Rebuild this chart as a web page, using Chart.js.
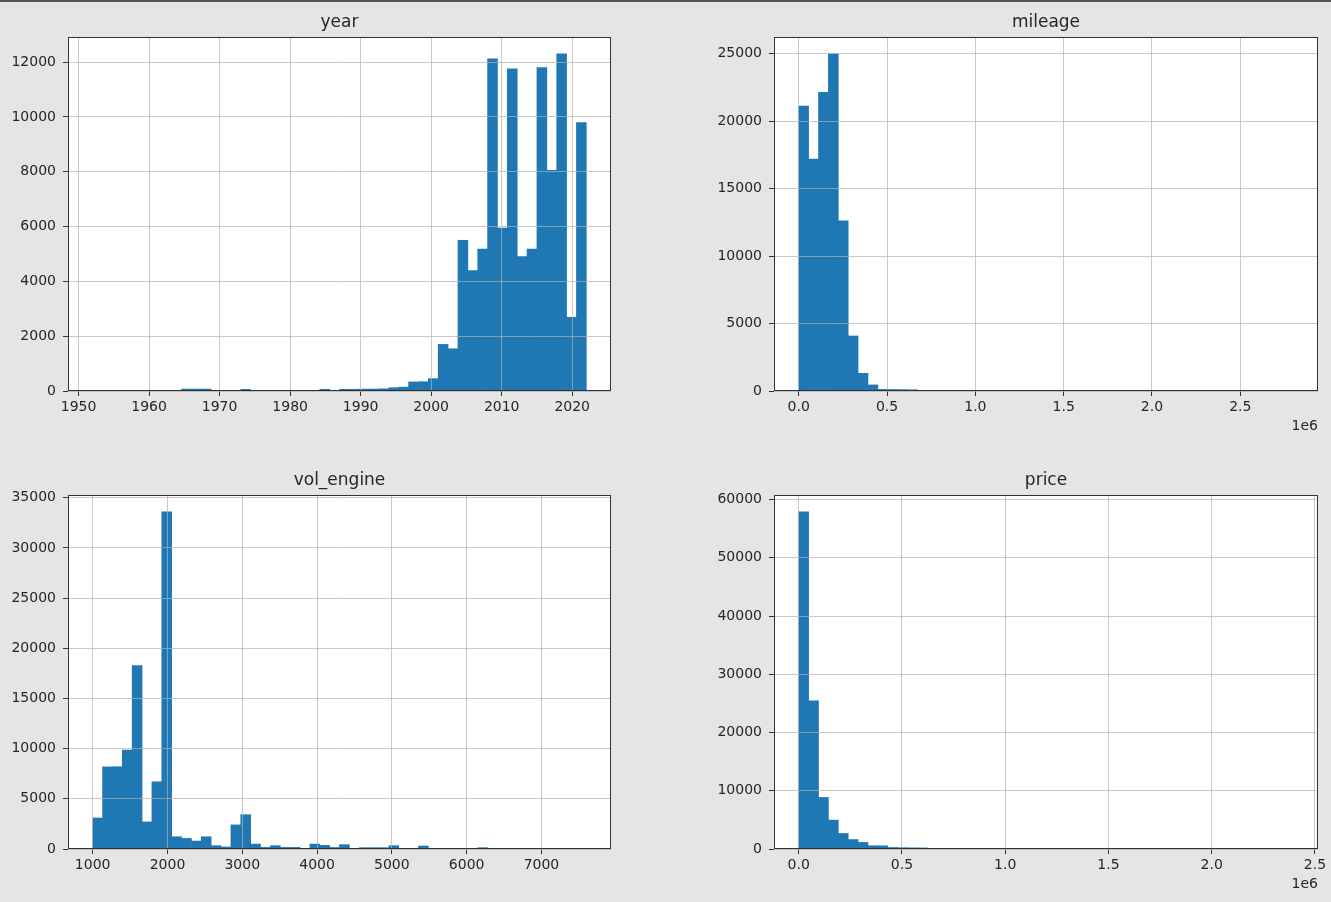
<!DOCTYPE html>
<html>
<head>
<meta charset="utf-8">
<script src="https://cdn.jsdelivr.net/npm/chart.js@4.4.0/dist/chart.umd.min.js"></script>
<style>
  html, body { margin: 0; padding: 0; }
  body { width: 1331px; height: 902px; background: #e5e5e5; position: relative; overflow: hidden; }
  #barraSuperior { position: absolute; left: 0; top: 0; width: 1331px; height: 2px; background: #555; }
  canvas { position: absolute; }
</style>
</head>
<body>
<div id="barraSuperior"></div>
<canvas id="cYear"></canvas>
<canvas id="cMileage"></canvas>
<canvas id="cVol"></canvas>
<canvas id="cPrice"></canvas>
<script>
const yearCounts = [
  1, 0, 0, 0, 0, 0, 0, 0, 0, 70,
  70, 70, 0, 0, 0, 60, 0, 0, 0, 0,
  0, 0, 0, 60, 0, 60, 60, 70, 70, 80,
  120, 140, 330, 340, 450, 1700, 1540, 5500, 4390, 5180,
  12120, 5940, 11750, 4900, 5180, 11800, 8050, 12300, 2690, 9790
];
const mileageCounts = [
  21130, 17200, 22150, 25000, 12620, 4080, 1310, 450, 120, 110,
  100, 90, 0, 0, 0, 0, 0, 0, 0, 0,
  0, 0, 0, 0, 0, 0, 0, 0, 0, 0,
  0, 0, 0, 0, 0, 0, 0, 0, 0, 0,
  0, 0, 0, 0, 0, 0, 0, 0, 0, 1
];
const volCounts = [
  3090, 8180, 8200, 9850, 18280, 2700, 6700, 33600, 1220, 1050,
  790, 1220, 330, 200, 2400, 3420, 490, 160, 330, 160,
  160, 30, 490, 360, 150, 430, 20, 130, 130, 130,
  330, 0, 0, 300, 0, 0, 0, 0, 0, 130,
  0, 0, 0, 0, 0, 0, 0, 0, 0, 1
];
const priceCounts = [
  57900, 25450, 8850, 4960, 2670, 1620, 1130, 560, 550, 260,
  220, 200, 180, 0, 0, 0, 0, 0, 0, 0,
  0, 0, 0, 0, 0, 0, 0, 0, 0, 0,
  0, 0, 0, 0, 0, 0, 0, 0, 0, 0,
  0, 0, 0, 0, 0, 0, 0, 0, 0, 1
];

// Rango (mínimo, máximo) de cada columna
const yearRange = [1952, 2022];
const mileageRange = [0, 2800000];
const volRange = [1000, 7600];
const priceRange = [0, 2395000];

// Marcas de los ejes
const yearTicks = [1950, 1960, 1970, 1980, 1990, 2000, 2010, 2020];
const mileageTicks = [0, 500000, 1000000, 1500000, 2000000, 2500000];
const volTicks = [1000, 2000, 3000, 4000, 5000, 6000, 7000];
const priceTicks = [0, 500000, 1000000, 1500000, 2000000, 2500000];
const yearYTicks = [0, 2000, 4000, 6000, 8000, 10000, 12000];
const mileageYTicks = [0, 5000, 10000, 15000, 20000, 25000];
const volYTicks = [0, 5000, 10000, 15000, 20000, 25000, 30000, 35000];
const priceYTicks = [0, 10000, 20000, 30000, 40000, 50000, 60000];

// Medidas fijas de cada panel
const EJE_Y = 68;
const EJE_X = 48;
const ALTO_TITULO = 31;
const PAD_DER = 20;
const GRID = "rgba(176,176,176,0.7)";
const TEXTO = "#262626";

Chart.defaults.font.family = "'DejaVu Sans', sans-serif";
Chart.defaults.font.size = 14;
Chart.defaults.color = TEXTO;

// Plugin: fondo blanco del área y marco completo alrededor
const marco = {
  id: "marco",
  beforeDraw(chart) {
    const { ctx, chartArea: a } = chart;
    ctx.save();
    ctx.fillStyle = "#ffffff";
    ctx.fillRect(a.left, a.top, a.right - a.left, a.bottom - a.top);
    ctx.restore();
  },
  afterDraw(chart) {
    const { ctx, chartArea: a } = chart;
    ctx.save();
    ctx.strokeStyle = "#333";
    ctx.lineWidth = 1;
    ctx.strokeRect(a.left + 0.5, a.top + 0.5, a.right - a.left - 1, a.bottom - a.top - 1);
    ctx.restore();
  }
};

function crearHistograma(id, titulo, conteos, rango, xTicks, yTicks, caja, formatoX, exponente) {
  let ancho = (rango[1] - rango[0]) / conteos.length;
  let margen = (rango[1] - rango[0]) * 0.05;
  let puntos = conteos.map((c, i) => ({ x: rango[0] + ancho * (i + 0.5), y: c }));
  let yMax = Math.max(...conteos) * 1.05;

  // Tamaño y posición del canvas para que el área quede en su sitio
  let canvas = document.getElementById(id);
  let w = caja.right - caja.left + EJE_Y + PAD_DER;
  let h = caja.bottom - caja.top + ALTO_TITULO + EJE_X;
  canvas.width = w;
  canvas.height = h;
  canvas.style.width = w + "px";
  canvas.style.height = h + "px";
  canvas.style.left = caja.left - EJE_Y + "px";
  canvas.style.top = caja.top - ALTO_TITULO + "px";

  new Chart(canvas, {
    type: "bar",
    data: {
      datasets: [
        {
          data: puntos,
          backgroundColor: "#1f77b4",
          borderWidth: 0,
          barPercentage: 1,
          categoryPercentage: 1,
        },
      ],
    },
    options: {
      responsive: false,
      animation: false,
      devicePixelRatio: 1,
      layout: { padding: { left: 0, right: PAD_DER, top: 0, bottom: 0 } },
      plugins: {
        legend: { display: false },
        tooltip: { enabled: false },
        title: {
          display: true,
          text: titulo,
          fullSize: false,
          color: TEXTO,
          font: { size: 17, weight: "normal", lineHeight: 1 },
          padding: { top: 8, bottom: 6 },
        },
      },
      scales: {
        x: {
          type: "linear",
          min: rango[0] - margen,
          max: rango[1] + margen,
          offset: false,
          afterBuildTicks: (eje) => {
            eje.ticks = xTicks.map((v) => ({ value: v }));
          },
          afterFit: (eje) => {
            eje.height = EJE_X;
          },
          ticks: { callback: formatoX, padding: 3, maxRotation: 0, autoSkip: false, color: TEXTO },
          grid: { color: GRID, z: 1, tickLength: 5, tickColor: "#333", offset: false },
          border: { display: false },
          title: {
            display: !!exponente,
            text: exponente || "",
            align: "end",
            color: TEXTO,
            font: { size: 14 },
            padding: { top: 0, bottom: 4 },
          },
        },
        y: {
          type: "linear",
          min: 0,
          max: yMax,
          afterBuildTicks: (eje) => {
            eje.ticks = yTicks.map((v) => ({ value: v }));
          },
          afterFit: (eje) => {
            eje.width = EJE_Y;
          },
          ticks: { callback: (v) => String(v), padding: 7, color: TEXTO },
          grid: { color: GRID, z: 1, tickLength: 5, tickColor: "#333" },
          border: { display: false },
        },
      },
    },
    plugins: [marco],
  });
}

let formatoAnio = (v) => String(v);
let formatoMillones = (v) => (v / 1e6).toFixed(1);

crearHistograma("cYear", "year", yearCounts, yearRange, yearTicks, yearYTicks,
  { left: 68, top: 37, right: 611, bottom: 391 }, formatoAnio, null);
crearHistograma("cMileage", "mileage", mileageCounts, mileageRange, mileageTicks, mileageYTicks,
  { left: 774, top: 37, right: 1318, bottom: 391 }, formatoMillones, "1e6");
crearHistograma("cVol", "vol_engine", volCounts, volRange, volTicks, volYTicks,
  { left: 68, top: 495, right: 611, bottom: 849 }, formatoAnio, null);
crearHistograma("cPrice", "price", priceCounts, priceRange, priceTicks, priceYTicks,
  { left: 774, top: 495, right: 1318, bottom: 849 }, formatoMillones, "1e6");
</script>
</body>
</html>
